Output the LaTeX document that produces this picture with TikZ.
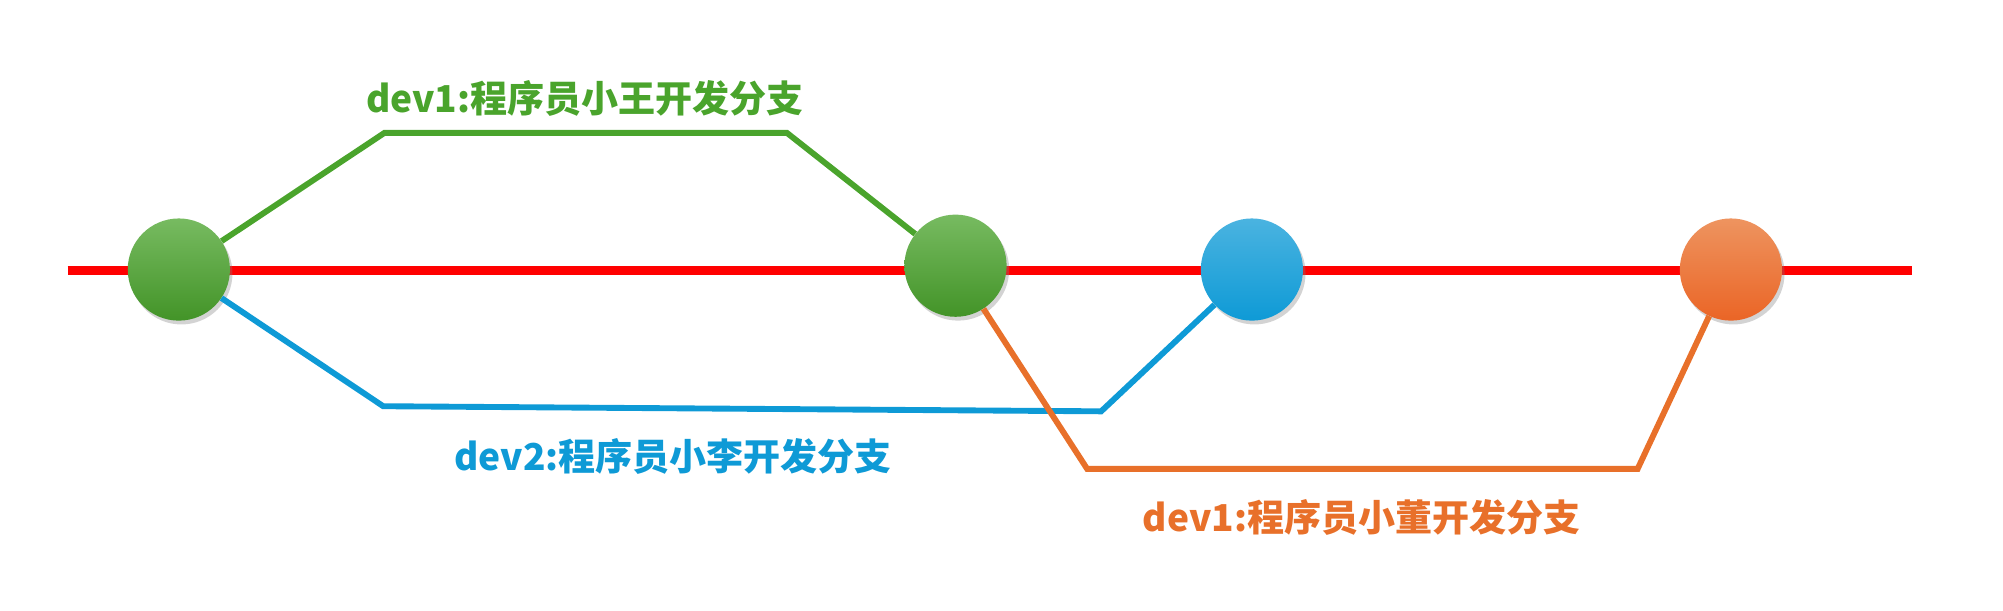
\documentclass[tikz,border=0pt]{standalone}
\usepackage{fontspec}
\newfontfamily\cjk{Noto Sans CJK SC}
\usetikzlibrary{shadows}
\definecolor{cg}{HTML}{4AA42C}
\definecolor{cb}{HTML}{0E9AD6}
\definecolor{co}{HTML}{E8702A}
\tikzset{
 commit/.style={circle,minimum size=80pt,inner sep=0pt,drop shadow={opacity=0.35,shadow xshift=2pt,shadow yshift=-3pt}},
 gnode/.style={commit,top color=cg!75!white,bottom color=cg!90!black},
 bnode/.style={commit,top color=cb!75!white,bottom color=cb},
 onode/.style={commit,top color=co!75!white,bottom color=co!90!red},
 branch/.style={line width=4.6pt},
 lab/.style={font=\cjk\bfseries\fontsize{29}{34}\selectfont,inner sep=0pt}
}
\begin{document}
\begin{tikzpicture}[x=1pt,y=-1pt]
\useasboundingbox (0,0) rectangle (1568,478);
\coordinate (L) at (53,212);
\coordinate (R) at (1497,212);
\draw[red,line width=7pt] (L) -- (R);
\node[gnode] (n1) at (140,211) {};
\node[gnode] (n2) at (748,208) {};
\node[bnode] (n3) at (980,211) {};
\node[onode] (n4) at (1355,211) {};
\coordinate (g1) at (301,104);
\coordinate (g2) at (616,104);
\coordinate (b1) at (300,318);
\coordinate (b2) at (862,322);
\coordinate (o1) at (851,367);
\coordinate (o2) at (1282,367);
\draw[branch,cg] (n1) -- (g1) -- (g2) -- (n2);
\draw[branch,cb] (n1) -- (b1) -- (b2) -- (n3);
\draw[branch,co] (n2) -- (o1) -- (o2) -- (n4);
\node[lab,text=cg] (t1) at (458,77) {dev1:程序员小王开发分支};
\node[lab,text=cb] (t2) at (527,357) {dev2:程序员小李开发分支};
\node[lab,text=co] (t3) at (1066,405) {dev1:程序员小董开发分支};
\end{tikzpicture}
\end{document}
